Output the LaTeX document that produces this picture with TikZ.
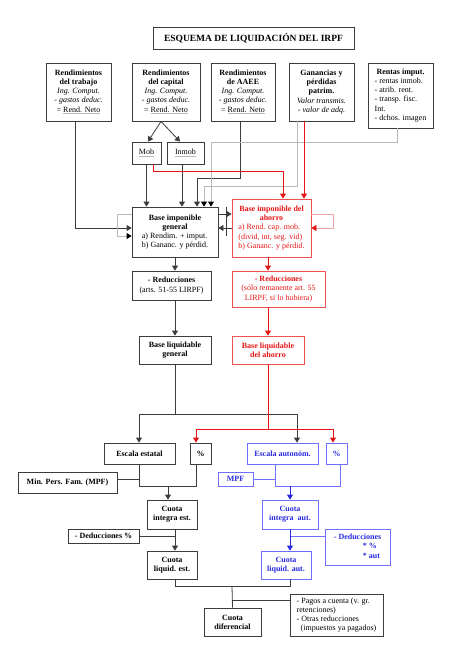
\documentclass[tikz,border=0pt]{standalone}
\usepackage{fontspec}
\setmainfont{Liberation Serif}
\usetikzlibrary{arrows.meta}
\definecolor{dk}{RGB}{60,60,60}
\definecolor{rtx}{RGB}{230,20,20}
\definecolor{rbd}{RGB}{240,80,80}
\definecolor{btx}{RGB}{40,40,225}
\definecolor{bbd}{RGB}{110,110,255}
\definecolor{lg}{RGB}{185,185,185}
\definecolor{pk}{RGB}{240,165,165}
\newcommand{\gul}[1]{\textcolor{lg}{\underline{\textcolor{black}{#1}}}}
\tikzset{
  box/.style={draw=dk, line width=0.8pt, inner sep=0pt, align=center,
    font=\fontsize{8}{9.2}\selectfont},
  bx/.style 2 args={box, minimum width=#1, minimum height=#2},
  rbox/.style={draw=rbd, text=rtx},
  bbox/.style={draw=bbd, text=btx},
  ln/.style={draw=dk, line width=0.8pt},
  arr/.style={ln, -{Triangle[length=5pt,width=6pt]}},
  garr/.style={draw=lg, line width=0.8pt, -{Triangle[length=5pt,width=6pt,color=black]}},
  rarr/.style={draw=rtx, line width=0.8pt, -{Triangle[length=5pt,width=6pt]}},
  parr/.style={draw=pk, line width=0.8pt, -{Triangle[length=5pt,width=6pt,color=rtx]}},
  barr/.style={draw=btx, line width=0.8pt, -{Triangle[length=5pt,width=6pt]}},
  bln/.style={draw=bbd, line width=0.8pt},
}
\begin{document}
\begin{tikzpicture}[x=1pt,y=-1pt]
\useasboundingbox (0,0) rectangle (474,670);
% title
\node[box, minimum width=201pt, minimum height=22pt, font=\fontsize{9.5}{11}\selectfont\bfseries] (title) at (253.5,38) {ESQUEMA DE LIQUIDACIÓN DEL IRPF};
% top boxes
\node[bx={65pt}{58pt}] (b1) at (78.5,92) {\textbf{Rendimientos}\\\textbf{del trabajo}\\\textit{Ing. Comput.}\\\textit{- gastos deduc.}\\= \gul{Rend. Neto}};
\node[bx={68pt}{58pt}] (b2) at (166,92) {\textbf{Rendimientos}\\\textbf{del capital}\\\textit{Ing. Comput.}\\\textit{- gastos deduc.}\\= \gul{Rend. Neto}};
\node[bx={64pt}{58pt}] (b3) at (243,92) {\textbf{Rendimientos}\\\textbf{de AAEE}\\\textit{Ing. Comput.}\\\textit{- gastos deduc.}\\= \gul{Rend. Neto}};
\node[bx={65pt}{58pt}] (b4) at (321.5,92) {\textbf{Ganancias y}\\\textbf{pérdidas}\\\textbf{patrim.}\\\textit{Valor transmis.}\\\textit{- valor de adq.}};
\node[bx={65pt}{65pt}] (b5) at (400.5,95.5) {\begin{tabular}{@{}l@{}}\multicolumn{1}{@{}c@{}}{\textbf{Rentas imput.}}\\- rentas inmob.\\- atrib. rent.\\- transp. fisc.\\Int.\\- dchos. imagen\end{tabular}};
% mob / inmob
\node[bx={29pt}{22pt}] (mob) at (146.5,153) {\gul{Mob}};
\node[bx={37pt}{22pt}] (inmob) at (185.5,153) {\gul{Inmob}};
% bases imponibles
\node[bx={86pt}{50pt}] (big) at (175,232) {\begin{tabular}{@{}l@{}}\multicolumn{1}{@{}c@{}}{\textbf{Base imponible}}\\\multicolumn{1}{@{}c@{}}{\textbf{general}}\\a) Rendim. + imput.\\b) Gananc. y pérdid.\end{tabular}};
\node[bx={79pt}{58pt}, rbox] (bia) at (271.5,228) {\begin{tabular}{@{}l@{}}\multicolumn{1}{@{}c@{}}{\textbf{Base imponible del}}\\\multicolumn{1}{@{}c@{}}{\textbf{ahorro}}\\a) Rend. cap. mob.\\(divid, int, seg. vid)\\b) Gananc. y pérdid.\end{tabular}};
% reducciones
\node[bx={79pt}{29pt}] (red1) at (171.5,285.5) {\textbf{- Reducciones}\\(arts. 51-55 LIRPF)};
\node[bx={93pt}{36pt}, rbox] (red2) at (278.5,289) {\textbf{- Reducciones}\\(sólo remanente art. 55\\LIRPF, si lo hubiera)};
% bases liquidables
\node[bx={72pt}{28pt}] (blg) at (175,350) {\textbf{Base liquidable}\\\textbf{general}};
\node[bx={72pt}{28pt}, rbox] (bla) at (268,350) {\textbf{Base liquidable}\\\textbf{del ahorro}};
% escalas
\node[bx={71pt}{21pt}] (ee) at (139.5,453.5) {\textbf{Escala estatal}};
\node[bx={21pt}{21pt}] (pct1) at (200.5,453.5) {\textbf{\%}};
\node[bx={71pt}{21pt}, bbox] (ea) at (282.5,453.5) {\textbf{Escala autonóm.}};
\node[bx={21pt}{21pt}, bbox] (pct2) at (336.5,453.5) {\textbf{\%}};
\node[bx={99pt}{21pt}] (mpf1) at (67.5,482.5) {\textbf{Min. Pers. Fam. (MPF)}};
\node[bx={35pt}{14pt}, bbox] (mpf2) at (235.5,479) {\textbf{MPF}};
% cuotas
\node[bx={50pt}{29pt}] (cie) at (172,514.5) {\textbf{Cuota}\\\textbf{integra est.}};
\node[bx={56pt}{29pt}, bbox] (cia) at (290,514.5) {\textbf{Cuota}\\\textbf{integra\ \ aut.}};
\node[bx={71pt}{14pt}] (ded1) at (103.5,536) {\textbf{- Deducciones \%}};
\node[bx={65pt}{36pt}, bbox] (ded2) at (357.5,547) {\begin{tabular}{@{}l@{}}\textbf{- Deducciones}\\\hspace*{29pt}\textbf{* \%}\\\hspace*{29pt}\textbf{* aut}\end{tabular}};
\node[bx={50pt}{28pt}] (cle) at (172,565) {\textbf{Cuota}\\\textbf{liquid. est.}};
\node[bx={50pt}{28pt}, bbox] (cla) at (286,565) {\textbf{Cuota}\\\textbf{liquid. aut.}};
\node[bx={57pt}{28pt}] (cdif) at (232.5,622) {\textbf{Cuota}\\\textbf{diferencial}};
\node[bx={93pt}{42pt}] (pagos) at (336.5,615) {\begin{tabular}{@{}l@{}}- Pagos a cuenta (v. gr.\\retenciones)\\- Otras reducciones\\\hspace*{4pt}(impuestos ya pagados)\end{tabular}};

% ---- connectors ----
\draw[arr] (b1.south -| 75,0) |- (big.west |- 0,228);
\draw[garr] (big.west |- 0,214) -- (117,214) |- (big.west |- 0,236);
\draw[arr] (b2.south -| 161,0) -- (mob.north -| 148,0);
\draw[arr] (b2.south -| 161,0) -- (inmob.north -| 180,0);
\draw[arr] (mob.south) -- (big.north -| mob.south);
\draw[arr] (inmob.south -| 182,0) -- (big.north -| 182,0);
\draw[arr] (b3.south -| 240,0) |- (197,178) -- (big.north -| 197,0);
\draw[garr] (b4.south -| 297,0) |- (204,186) -- (big.north -| 204,0);
\draw[garr] (b5.south -| 397,0) |- (211,142) -- (big.north -| 211,0);
\draw[rarr] (mob.south -| 153,0) |- (283,171) -- (bia.north -| 283,0);
\draw[rarr] (b4.south -| 304,0) -- (bia.north -| 304,0);
\draw[arr] (big.east |- 0,214) -- (bia.west |- 0,214);
\draw[arr] (bia.west |- 0,228) -- (big.east |- 0,228);
\coordinate (tk1) at (226,207);
\coordinate (tk2) at (226,236);
\draw[ln] (tk1) -- (tk2);
\draw[parr] (bia.east |- 0,214) -- (333,214) |- (bia.east |- 0,228);
\draw[arr] (big.south) -- (red1.north -| big.south);
\draw[rarr] (bia.south -| 268,0) -- (red2.north -| 268,0);
\draw[arr] (red1.south -| 175,0) -- (blg.north -| 175,0);
\draw[rarr] (red2.south -| 268,0) -- (bla.north -| 268,0);
\coordinate (j1) at (175,414);
\coordinate (j2) at (268,429);
\draw[ln] (blg.south) -- (j1);
\draw[arr] (j1) -| (ee.north -| 139,0);
\draw[arr] (j1) -| (ea.north -| 297,0);
\draw[draw=rtx, line width=0.8pt] (bla.south) -- (j2);
\draw[rarr] (j2) -| (pct1.north -| 196,0);
\draw[rarr] (j2) -| (pct2.north -| 333,0);
% estatal
\draw[ln] (ee.south -| 139,0) |- (196,486) -- (pct1.south -| 196,0);
\draw[ln] (mpf1.east |- 0,479) -- (139,479);
\draw[arr] (168,486) -- (cie.north -| 168,0);
\draw[ln] (ded1.east) -- (175,536);
\draw[arr] (cie.south -| 175,0) -- (cle.north -| 175,0);
% autonomico
\draw[bln] (ea.south -| 275,0) |- (340,486) -- (pct2.south -| 340,0);
\draw[bln] (mpf2.east) -- (275,479);
\draw[barr] (290,486) -- (cia.north);
\draw[bln] (ded2.west |- 0,536) -- (290,536);
\draw[barr] (cia.south) -- (cla.north -| 290,0);
% diferencial
\coordinate (j3) at (232,586);
\draw[ln] (cle.south -| 175,0) |- (290,586) -- (cla.south -| 290,0);
\draw[ln] (j3) -- (cdif.north);
\draw[ln] (232,600) -- (pagos.west |- 0,600);
\end{tikzpicture}
\end{document}
